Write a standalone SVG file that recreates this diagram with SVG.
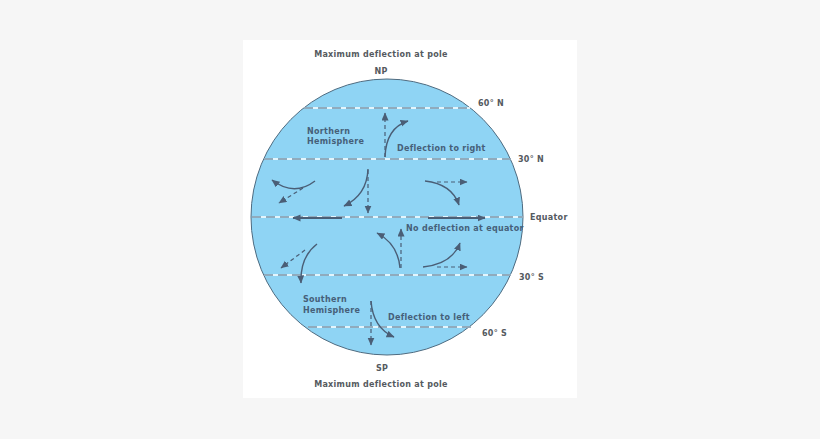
<svg xmlns="http://www.w3.org/2000/svg" width="820" height="439" viewBox="0 0 820 439">
<style>
.lbl{font-family:"DejaVu Sans","Liberation Sans",sans-serif;font-weight:bold;font-size:8px;letter-spacing:0.3px;fill:#555a60}
.in{fill:#466079}
.lat-w{stroke:#ffffff;stroke-width:1.6;fill:none}
.lat-d{stroke:#7592a8;stroke-width:1.6;stroke-dasharray:9 5;fill:none}
.a{stroke:#4a5e76;stroke-width:1.4;fill:none;marker-end:url(#ah)}
.ad{stroke:#4a5e76;stroke-width:1.2;fill:none;stroke-dasharray:4 3;marker-end:url(#ah)}
.at{stroke:#4a5e76;stroke-width:2;fill:none;marker-end:url(#ah)}
</style>
<defs>
<marker id="ah" markerUnits="userSpaceOnUse" markerWidth="9" markerHeight="8" refX="7.5" refY="3.5" orient="auto">
<path d="M0,0 L8,3.5 L0,7 z" fill="#4a5e76"/>
</marker>
</defs>
<rect width="820" height="439" fill="#f6f6f6"/>
<rect x="243" y="40" width="334" height="358" fill="#ffffff"/>
<g id="globe">
<ellipse cx="387" cy="217" rx="136" ry="138" fill="#8fd4f4" stroke="#4e6b80" stroke-width="1"/>
</g>
<g id="latitudes">
<path class="lat-w" d="M304,108 H470 M264,159 H515 M252,217 H523 M264,275 H514 M308,327 H472"/>
<path class="lat-d" d="M304,108 H470 M264,159 H515 M252,217 H523 M264,275 H514 M308,327 H472"/>
</g>
<g id="labels">
<text class="lbl" x="381" y="57" text-anchor="middle">Maximum deflection at pole</text>
<text class="lbl" x="381" y="74" text-anchor="middle">NP</text>
<text class="lbl" x="478" y="106">60° N</text>
<text class="lbl" x="518" y="162">30° N</text>
<text class="lbl" x="530" y="220">Equator</text>
<text class="lbl" x="519" y="280">30° S</text>
<text class="lbl" x="482" y="336">60° S</text>
<text class="lbl" x="382" y="371" text-anchor="middle">SP</text>
<text class="lbl" x="381" y="387" text-anchor="middle">Maximum deflection at pole</text>
</g>
<g id="inner-labels">
<text class="lbl in" x="307" y="134">Northern</text>
<text class="lbl in" x="307" y="144">Hemisphere</text>
<text class="lbl in" x="397" y="151">Deflection to right</text>
<text class="lbl in" x="406" y="231">No deflection at equator</text>
<text class="lbl in" x="303" y="302">Southern</text>
<text class="lbl in" x="303" y="313">Hemisphere</text>
<text class="lbl in" x="388" y="320">Deflection to left</text>
</g>
<g id="connectors">
<path class="ad" d="M385,157 V113"/>
<path class="a" d="M385,157 Q386,128 408,121"/>
<path class="ad" d="M368,170 V213"/>
<path class="a" d="M368,169 Q367,195 344,206"/>
<path class="a" d="M315,181 Q294,197 272,180"/>
<path class="ad" d="M303,188 L279,203"/>
<path class="a" d="M425,181 Q452,184 459,205"/>
<path class="ad" d="M437,182 H467"/>
<path class="at" d="M342,218 H293"/>
<path class="at" d="M428,218 H485"/>
<path class="ad" d="M401,268 V229"/>
<path class="a" d="M400,268 Q398,244 377,233"/>
<path class="a" d="M317,244 Q300,257 301,283"/>
<path class="ad" d="M305,250 L281,268"/>
<path class="a" d="M423,267 Q452,264 460,243"/>
<path class="ad" d="M437,267 H467"/>
<path class="ad" d="M371,301 V345"/>
<path class="a" d="M371,301 Q373,328 394,337"/>
</g>
</svg>
